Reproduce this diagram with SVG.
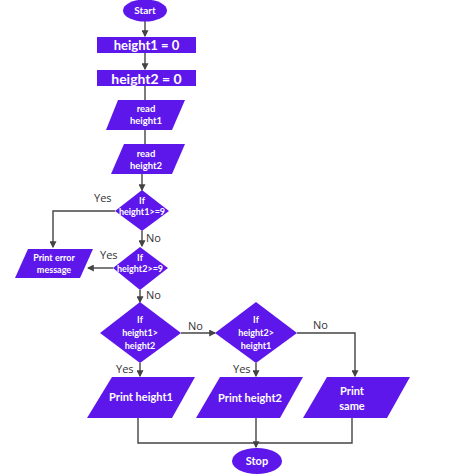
<svg xmlns="http://www.w3.org/2000/svg" width="474" height="474" viewBox="0 0 474 474">
<style>
.s{fill:#5E17EB;}
.t{fill:#fff;font-family:Lato,"Open Sans",sans-serif;font-weight:bold;text-anchor:middle;}
.c{fill:none;stroke:#444;stroke-width:1.4;}
.l{fill:#333;font-family:"Open Sans",Lato,sans-serif;font-size:11px;}
</style>
<defs>
<marker id="a" viewBox="0 0 6 6" refX="5" refY="3" markerWidth="5" markerHeight="5" orient="auto"><path d="M0,0 L6,3 L0,6 z" fill="#444"/></marker>
</defs>
<rect width="474" height="474" fill="#fff"/>
<g id="connectors">
<path class="c" d="M145,21 V36" marker-end="url(#a)"/>
<path class="c" d="M145,53 V69" marker-end="url(#a)"/>
<path class="c" d="M145,86 V100"/>
<path class="c" d="M145,130 V144"/>
<path class="c" d="M142,174 V190" marker-end="url(#a)"/>
<path class="c" d="M115,211 H53 V247" marker-end="url(#a)"/>
<path class="c" d="M142,231 V246" marker-end="url(#a)"/>
<path class="c" d="M113,268 H88" marker-end="url(#a)"/>
<path class="c" d="M140,290 V302" marker-end="url(#a)"/>
<path class="c" d="M181,333 H215" marker-end="url(#a)"/>
<path class="c" d="M297,333 H355 V376" marker-end="url(#a)"/>
<path class="c" d="M140,363 V376" marker-end="url(#a)"/>
<path class="c" d="M256,363 V376" marker-end="url(#a)"/>
<path class="c" d="M138,418 V443 H352 V418"/>
<path class="c" d="M256,418 V447" marker-end="url(#a)"/>
</g>
<g id="start"><ellipse class="s" cx="145" cy="10.5" rx="22" ry="11"/><text class="t" x="145" y="14" font-size="10">Start</text></g>
<g id="h1"><rect class="s" x="97" y="37" width="99" height="16"/><text class="t" x="146.5" y="50" font-size="13">height1 = 0</text></g>
<g id="h2"><rect class="s" x="97" y="70" width="99" height="16"/><text class="t" x="146.5" y="83.5" font-size="14">height2 = 0</text></g>
<g id="read1"><polygon class="s" points="118,100 185,100 172,130 106,130"/><text class="t" x="146" y="112" font-size="9.5">read</text><text class="t" x="146" y="124" font-size="9.5">height1</text></g>
<g id="read2"><polygon class="s" points="124,144 185,144 172,174 111,174"/><text class="t" x="146" y="157" font-size="9.5">read</text><text class="t" x="146" y="169" font-size="9.5">height2</text></g>
<g id="d1"><polygon class="s" points="142,190 169,211 142,231 115,211"/><text class="t" x="142" y="204" font-size="9">If</text><text class="t" x="142" y="215" font-size="9">height1&gt;=9</text></g>
<g id="d2"><polygon class="s" points="140,247 168,268 140,290 113,268"/><text class="t" x="140" y="261" font-size="9">If</text><text class="t" x="140" y="272" font-size="9">height2&gt;=9</text></g>
<g id="err"><polygon class="s" points="28,249 93,249 80,278 15,278"/><text class="t" x="54" y="261" font-size="9">Print error</text><text class="t" x="54" y="273" font-size="9">message</text></g>
<g id="d3"><polygon class="s" points="140,302 181,333 140,363 100,333"/><text class="t" x="140" y="323" font-size="9">If</text><text class="t" x="140" y="336" font-size="9">height1&gt;</text><text class="t" x="140" y="349" font-size="9">height2</text></g>
<g id="d4"><polygon class="s" points="256,302 297,333 256,363 215,333"/><text class="t" x="256" y="323" font-size="9">If</text><text class="t" x="256" y="336" font-size="9">height2&gt;</text><text class="t" x="256" y="349" font-size="9">height1</text></g>
<g id="p1"><polygon class="s" points="112,377 195,377 172,418 87,418"/><text class="t" x="141" y="401" font-size="11">Print height1</text></g>
<g id="p2"><polygon class="s" points="220,377 303,377 280,418 196,418"/><text class="t" x="250" y="402" font-size="11">Print height2</text></g>
<g id="p3"><polygon class="s" points="327,377 410,377 387,418 303,418"/><text class="t" x="352" y="395" font-size="11">Print</text><text class="t" x="352" y="410" font-size="11">same</text></g>
<g id="stop"><ellipse class="s" cx="257" cy="461" rx="25" ry="13"/><text class="t" x="257" y="465" font-size="11">Stop</text></g>
<g id="labels">
<text class="l" x="94" y="202">Yes</text>
<text class="l" x="146" y="242">No</text>
<text class="l" x="100" y="259">Yes</text>
<text class="l" x="146" y="299">No</text>
<text class="l" x="188" y="330">No</text>
<text class="l" x="313" y="329" font-size="8">No</text>
<text class="l" x="116" y="373">Yes</text>
<text class="l" x="233" y="373">Yes</text>
</g>
</svg>
